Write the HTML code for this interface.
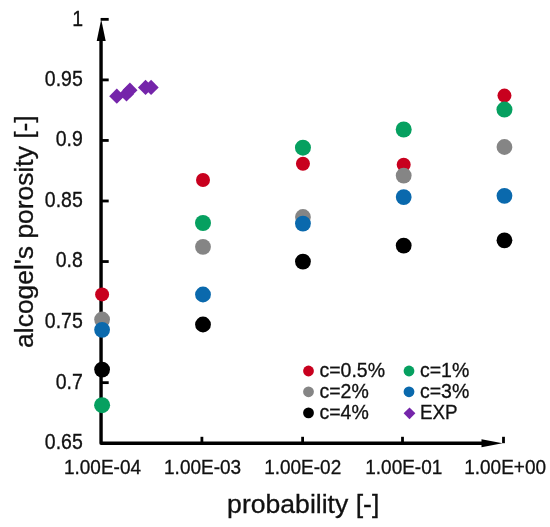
<!DOCTYPE html>
<html><head><meta charset="utf-8">
<style>
html,body{margin:0;padding:0;background:#fff;}
svg{display:block;}
text{font-family:"Liberation Sans",sans-serif;fill:#111;stroke:#111;stroke-width:0.3px;}
</style></head><body>
<svg width="550" height="527" viewBox="0 0 550 527">
<rect width="550" height="527" fill="#fff"/>
<!-- axes -->
<polyline points="101.05,38 101.05,443.2 484,443.2" stroke="#000" stroke-width="3.4" fill="none" stroke-linejoin="round"/>
<polygon points="101.2,19.5 96.7,41 105.7,41" fill="#000"/>
<polygon points="502.5,443.2 481.5,439.2 481.5,447.2" fill="#000"/>
<!-- ticks -->
<g stroke="#000" stroke-width="2.8" fill="none">
<line x1="100.6" y1="19.35" x2="108.7" y2="19.35"/>
<line x1="101" y1="79.9" x2="108.7" y2="79.9"/>
<line x1="101" y1="140.45" x2="108.7" y2="140.45"/>
<line x1="101" y1="201" x2="108.7" y2="201"/>
<line x1="101" y1="261.55" x2="108.7" y2="261.55"/>
<line x1="101" y1="322.1" x2="108.7" y2="322.1"/>
<line x1="101" y1="382.65" x2="108.7" y2="382.65"/>
<line x1="201.9" y1="436.8" x2="201.9" y2="443.2"/>
<line x1="302.6" y1="436.8" x2="302.6" y2="443.2"/>
<line x1="402.5" y1="436.8" x2="402.5" y2="443.2"/>
<line x1="503.5" y1="436.8" x2="503.5" y2="443.2"/>
</g>
<!-- y labels -->
<g font-size="19.5" text-anchor="end">
<text transform="translate(83.1,25.7) scale(1,1.085)">1</text>
<text transform="translate(82.80,85.90) scale(1,1.085)">0.95</text>
<text transform="translate(82.80,146.40) scale(1,1.085)">0.9</text>
<text transform="translate(82.80,206.90) scale(1,1.085)">0.85</text>
<text transform="translate(82.80,267.40) scale(1,1.085)">0.8</text>
<text transform="translate(82.80,328.10) scale(1,1.085)">0.75</text>
<text transform="translate(82.80,388.60) scale(1,1.085)">0.7</text>
<text transform="translate(82.80,449.20) scale(1,1.085)">0.65</text>
</g>
<!-- x labels -->
<g font-size="19" text-anchor="middle" transform="translate(0,474.3) scale(1,1.035) translate(0,-474.3)">
<text x="102.5" y="474.3">1.00E-04</text>
<text x="202.6" y="474.3">1.00E-03</text>
<text x="302.7" y="474.3">1.00E-02</text>
<text x="403.8" y="474.3">1.00E-01</text>
<text x="505.1" y="474.3">1.00E+00</text>
</g>
<text transform="translate(303.2,512.9) scale(1.068,1)" font-size="24.9" text-anchor="middle">probability [-]</text>
<text transform="translate(32.7,231.6) rotate(-90) scale(1.04,1)" font-size="25.4" text-anchor="middle">alcogel's porosity [-]</text>
<!-- data: draw order red, green, grey, blue, black -->
<g>
<g fill="#c8001e">
<circle cx="102.1" cy="294.4" r="7"/>
<circle cx="203" cy="180" r="7"/>
<circle cx="302.95" cy="163.8" r="7"/>
<circle cx="403.7" cy="164.8" r="7"/>
<circle cx="504.45" cy="95.6" r="7"/>
</g>
<g fill="#06a060">
<circle cx="102.1" cy="405.2" r="8"/>
<circle cx="203" cy="223" r="8"/>
<circle cx="302.95" cy="147.7" r="8"/>
<circle cx="403.7" cy="129.5" r="8"/>
<circle cx="504.45" cy="109.6" r="8"/>
</g>
<g fill="#858585">
<circle cx="102.1" cy="319.5" r="7.9"/>
<circle cx="203" cy="246.8" r="7.9"/>
<circle cx="302.95" cy="217" r="7.9"/>
<circle cx="403.7" cy="175.6" r="7.9"/>
<circle cx="504.45" cy="147" r="7.9"/>
</g>
<g fill="#0a69ad">
<circle cx="102.1" cy="329.8" r="7.9"/>
<circle cx="203" cy="294.5" r="7.9"/>
<circle cx="302.95" cy="223.6" r="7.9"/>
<circle cx="403.7" cy="197.1" r="7.9"/>
<circle cx="504.45" cy="195.8" r="7.9"/>
</g>
<g fill="#000">
<circle cx="102.1" cy="369.6" r="7.9"/>
<circle cx="203" cy="324.5" r="7.9"/>
<circle cx="302.95" cy="261.6" r="7.9"/>
<circle cx="403.7" cy="245.6" r="7.9"/>
<circle cx="504.45" cy="240.3" r="7.9"/>
</g>
<g fill="#7525aa">
<polygon points="116.80,88.60 124.40,96.20 116.80,103.80 109.20,96.20"/>
<polygon points="126.50,86.40 134.10,94.00 126.50,101.60 118.90,94.00"/>
<polygon points="129.90,82.60 137.50,90.20 129.90,97.80 122.30,90.20"/>
<polygon points="145.55,79.85 153.15,87.45 145.55,95.05 137.95,87.45"/>
<polygon points="151.10,79.85 158.70,87.45 151.10,95.05 143.50,87.45"/>
</g>
</g>
<!-- legend -->
<g>
<circle cx="308.5" cy="371" r="5.4" fill="#c8001e"/>
<circle cx="308.5" cy="391.8" r="5.4" fill="#858585"/>
<circle cx="308.5" cy="412.9" r="5.4" fill="#000"/>
<circle cx="409" cy="371" r="5.4" fill="#06a060"/>
<circle cx="409" cy="391.8" r="5.4" fill="#0a69ad"/>
<polygon points="409.5,407.4 415.4,413.3 409.5,419.2 403.6,413.3" fill="#7525aa"/>
<g font-size="19.5">
<text transform="translate(319.50,376.80) scale(1,1.04)">c=0.5%</text>
<text transform="translate(319.50,397.80) scale(1,1.04)">c=2%</text>
<text transform="translate(319.50,418.80) scale(1,1.04)">c=4%</text>
<text transform="translate(420.00,376.80) scale(1,1.04)">c=1%</text>
<text transform="translate(420.00,397.80) scale(1,1.04)">c=3%</text>
<text transform="translate(420.00,418.80) scale(0.965,1.04)">EXP</text>
</g>
</g>
</svg>
</body></html>
